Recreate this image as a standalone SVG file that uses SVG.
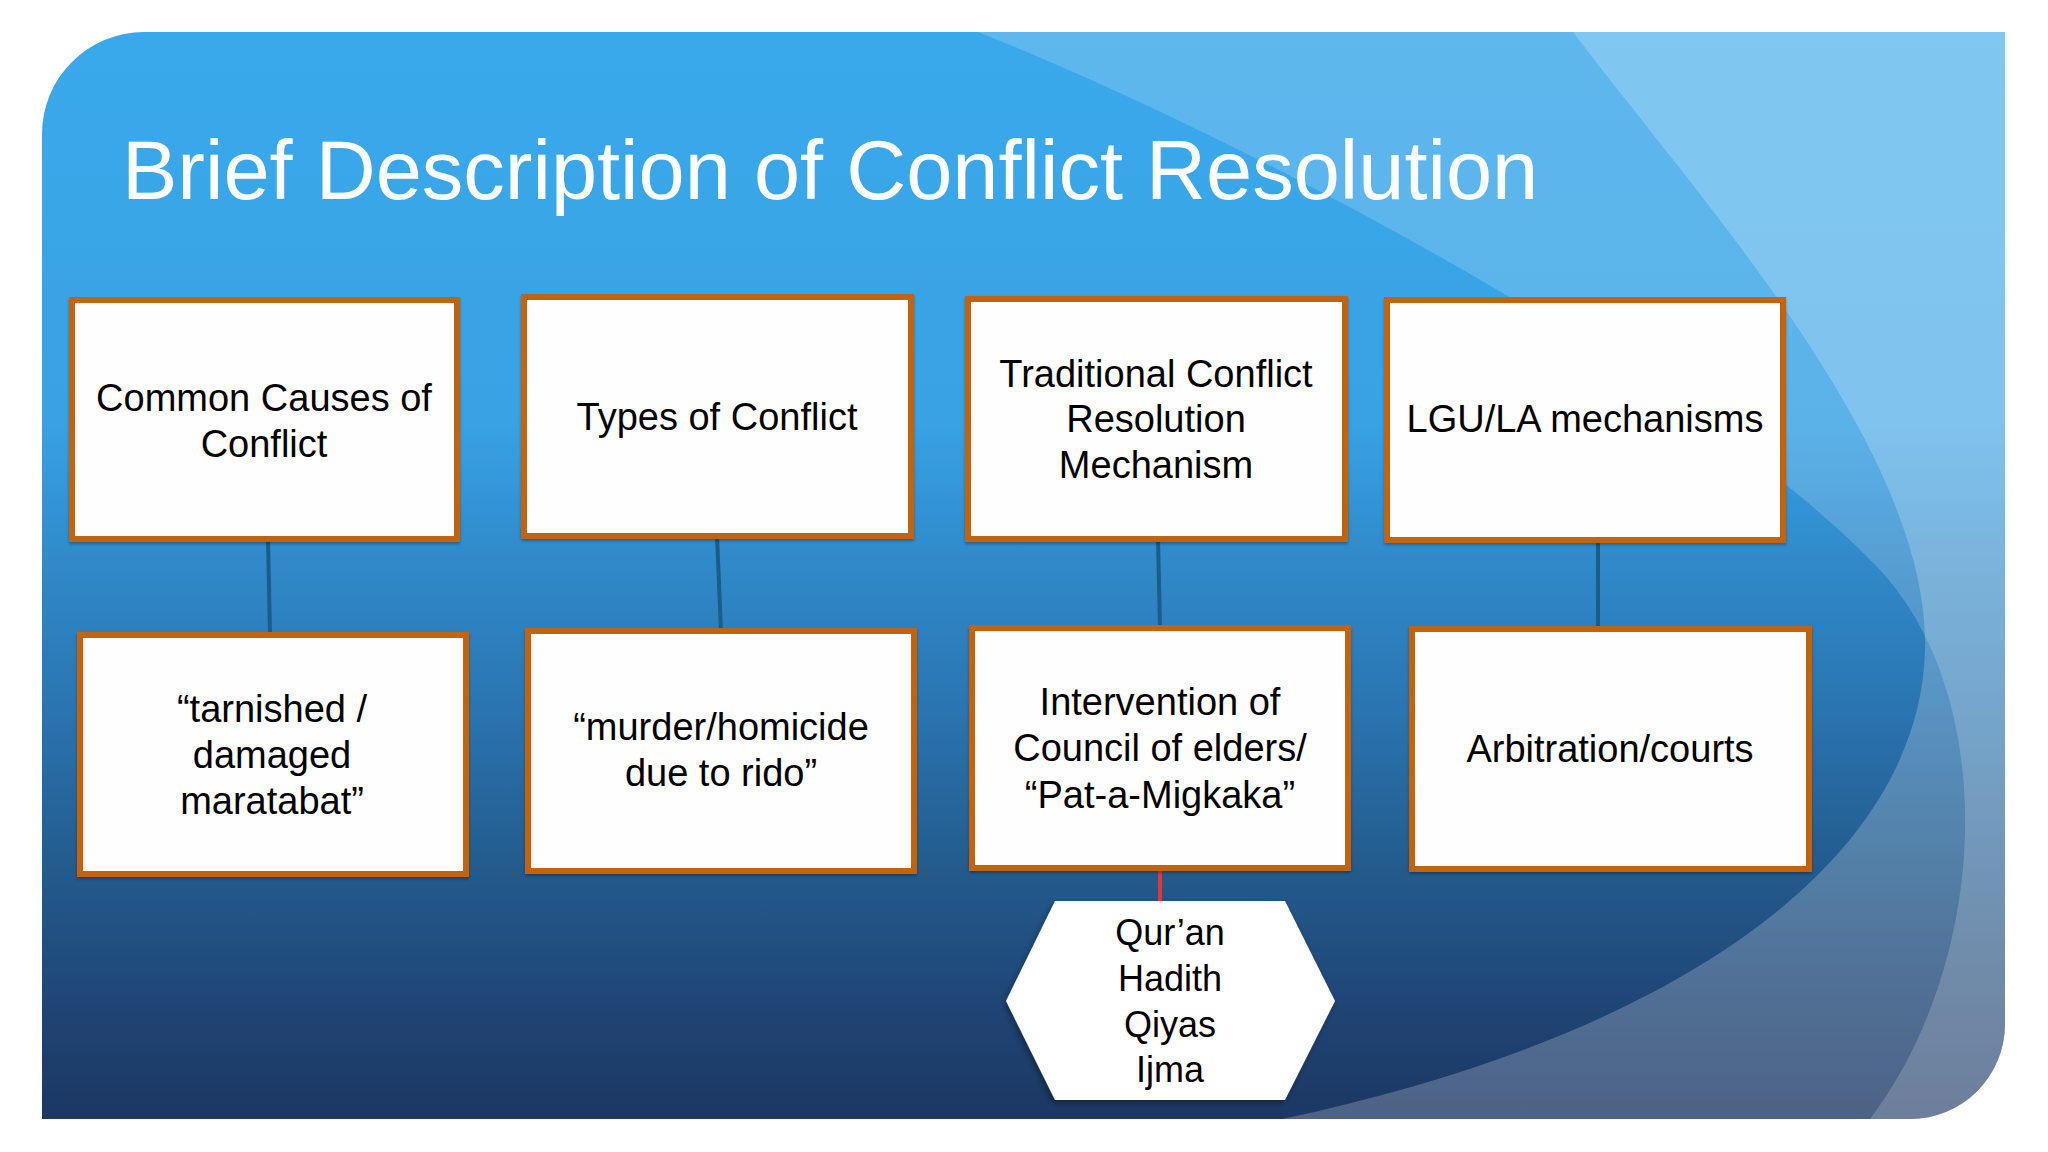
<svg xmlns="http://www.w3.org/2000/svg" width="2048" height="1152" viewBox="0 0 2048 1152">
  <defs>
    <linearGradient id="bg" x1="0" y1="32" x2="0" y2="1119" gradientUnits="userSpaceOnUse">
      <stop offset="0" stop-color="#3AA9EB"/>
      <stop offset="0.36" stop-color="#37A2E4"/>
      <stop offset="0.49" stop-color="#3089C9"/>
      <stop offset="0.62" stop-color="#2A75B1"/>
      <stop offset="0.77" stop-color="#235B8D"/>
      <stop offset="0.89" stop-color="#1F4676"/>
      <stop offset="1" stop-color="#1C3763"/>
    </linearGradient>
    <clipPath id="slideClip">
      <path d="M42,134 A102,102 0 0 1 144,32 L2005,32 L2005,1024 A95,95 0 0 1 1910,1119 L42,1119 Z"/>
    </clipPath>
    <filter id="shadow" x="-10%" y="-10%" width="120%" height="125%">
      <feDropShadow dx="-2" dy="3" stdDeviation="3" flood-color="#000" flood-opacity="0.35"/>
    </filter>
    <filter id="boxShadow" x="-5%" y="-5%" width="110%" height="112%">
      <feDropShadow dx="0" dy="2" stdDeviation="1.5" flood-color="#000" flood-opacity="0.3"/>
    </filter>
  </defs>
  <style>
    .box { fill: #FEFEFE; stroke: #C4640F; stroke-width: 6; }
    .txt { font-family: "Liberation Sans", Arial, sans-serif; font-size: 38px; fill: #000; text-anchor: middle; }
    .hex { fill: #FFFFFF; }
    .hextxt { font-family: "Liberation Sans", Arial, sans-serif; font-size: 36px; fill: #000; text-anchor: middle; }
    .title { font-family: "Liberation Sans", Arial, sans-serif; font-size: 83px; fill: #FFFFFF; }
    .conn { stroke: #1A5C8A; stroke-width: 4; fill: none; }
    .conn-red { stroke: #E8323C; stroke-width: 4; fill: none; }
  </style>

  <rect x="0" y="0" width="2048" height="1152" fill="#FFFFFF"/>

  <g id="background" clip-path="url(#slideClip)">
    <rect x="0" y="0" width="2048" height="1152" fill="url(#bg)"/>
    <path d="M978,32 C1250,140 1700,380 1880,570 C2000,700 1990,960 1870,1119 L1870,1152 L2048,1152 L2048,0 L978,0 Z" fill="#FFFFFF" fill-opacity="0.18"/>
    <path d="M1573,32 C1700,200 1930,450 1925,650 C1920,850 1700,1030 1282,1119 L1282,1152 L2048,1152 L2048,0 L1573,0 Z" fill="#FFFFFF" fill-opacity="0.22"/>
  </g>

  <text id="title" class="title" x="122" y="199">Brief Description of Conflict Resolution</text>

  <g id="connectors">
    <line class="conn" x1="268" y1="539" x2="270" y2="635"/>
    <line class="conn" x1="717" y1="536" x2="721" y2="631"/>
    <line class="conn" x1="1158" y1="539" x2="1160" y2="628"/>
    <line class="conn" x1="1598" y1="540" x2="1598" y2="629"/>
    <line class="conn-red" x1="1160" y1="868" x2="1160" y2="901"/>
  </g>

  <g id="node-causes">
    <rect class="box" x="72" y="300" width="385" height="239" filter="url(#boxShadow)"/>
    <text class="txt" x="264" y="411">Common Causes of</text>
    <text class="txt" x="264" y="457">Conflict</text>
  </g>
  <g id="node-types">
    <rect class="box" x="524" y="297" width="387" height="239" filter="url(#boxShadow)"/>
    <text class="txt" x="717" y="430">Types of Conflict</text>
  </g>
  <g id="node-traditional">
    <rect class="box" x="968" y="299" width="377" height="240" filter="url(#boxShadow)"/>
    <text class="txt" x="1156" y="387">Traditional Conflict</text>
    <text class="txt" x="1156" y="432">Resolution</text>
    <text class="txt" x="1156" y="478">Mechanism</text>
  </g>
  <g id="node-lgu">
    <rect class="box" x="1387" y="300" width="396" height="240" filter="url(#boxShadow)"/>
    <text class="txt" x="1585" y="432">LGU/LA mechanisms</text>
  </g>
  <g id="node-maratabat">
    <rect class="box" x="80" y="635" width="386" height="239" filter="url(#boxShadow)"/>
    <text class="txt" x="272" y="722">“tarnished /</text>
    <text class="txt" x="272" y="768">damaged</text>
    <text class="txt" x="272" y="814">maratabat”</text>
  </g>
  <g id="node-murder">
    <rect class="box" x="528" y="631" width="386" height="240" filter="url(#boxShadow)"/>
    <text class="txt" x="721" y="740">“murder/homicide</text>
    <text class="txt" x="721" y="786">due to rido”</text>
  </g>
  <g id="node-council">
    <rect class="box" x="972" y="628" width="376" height="240" filter="url(#boxShadow)"/>
    <text class="txt" x="1160" y="715">Intervention of</text>
    <text class="txt" x="1160" y="761">Council of elders/</text>
    <text class="txt" x="1160" y="808">“Pat-a-Migkaka”</text>
  </g>
  <g id="node-arbitration">
    <rect class="box" x="1412" y="629" width="397" height="240" filter="url(#boxShadow)"/>
    <text class="txt" x="1610" y="762">Arbitration/courts</text>
  </g>
  <g id="node-sources">
    <polygon class="hex" points="1055,901 1285,901 1335,1001 1285,1100 1055,1100 1006,1001" filter="url(#shadow)"/>
    <text class="hextxt" x="1170" y="945">Qur’an</text>
    <text class="hextxt" x="1170" y="991">Hadith</text>
    <text class="hextxt" x="1170" y="1037">Qiyas</text>
    <text class="hextxt" x="1170" y="1082">Ijma</text>
  </g>
</svg>
